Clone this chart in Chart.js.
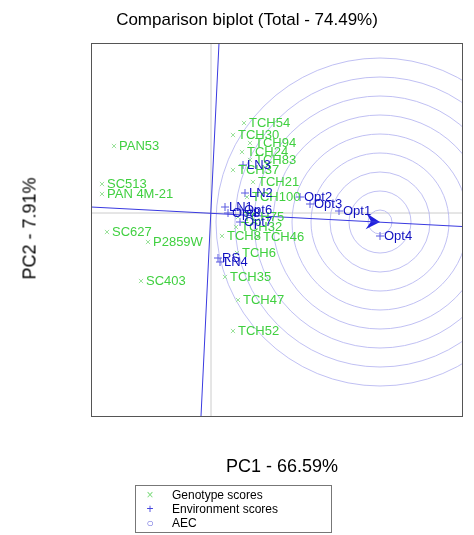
<!DOCTYPE html>
<html>
<head>
<meta charset="utf-8">
<script src="https://cdn.jsdelivr.net/npm/chart.js@4"></script>
<style>
  body { margin: 0; background: #fff; font-family: "Liberation Sans", Arial, sans-serif; }
  #wrap { position: relative; width: 474px; height: 535px; }
  canvas { position: absolute; left: 0; top: 0; }
  .txt { position: absolute; color: #000; white-space: nowrap; }
  #legend { position: absolute; left: 135px; top: 485px; width: 195px; height: 46px; border: 1px solid #777; font-size: 12px; }
  #legend div { position: relative; height: 14px; line-height: 14px; padding-left: 36px; }
  #legend span { position: absolute; left: 8px; width: 12px; text-align: center; }
</style>
</head>
<body>
<div id="wrap">
  <canvas id="biplot" width="474" height="535"></canvas>
  <div class="txt" style="left:0;width:474px;text-align:center;top:10px;font-size:17px;padding-left:20px;box-sizing:border-box;">Comparison biplot (Total - 74.49%)</div>
  <div class="txt" style="left:0;width:474px;top:456px;font-size:18px;padding-left:90px;box-sizing:border-box;text-align:center;">PC1 - 66.59%</div>
  <div class="txt" style="left:-40px;top:218px;font-size:18px;transform:rotate(-90deg);width:140px;text-align:center;">PC2 - 7.91%</div>
  <div id="legend">
    <div style="margin-top:2px;"><span style="color:#7fdc7f;">×</span>Genotype scores</div>
    <div><span style="color:#4444dd;">+</span>Environment scores</div>
    <div><span style="color:#6666dd;">○</span>AEC</div>
  </div>
</div>
<script>
// genotype scores (PC1, PC2)
const genoNames = ['PAN53', 'SC513', 'PAN 4M-21', 'SC627', 'P2859W', 'SC403',
  'TCH54', 'TCH30', 'TCH94', 'TCH24', 'TCH83', 'TCH37', 'TCH21', 'TCH100', 'TCH75',
  'TCH32', 'TCH8', 'TCH46', 'TCH6', 'TCH35', 'TCH47', 'TCH52'];
const genoX = [-9.7, -10.9, -10.9, -10.4, -6.3, -7.0,
  3.3, 2.2, 3.9, 3.1, 3.9, 2.2, 4.2, 3.6, 2.7,
  2.5, 1.1, 4.7, 2.6, 1.4, 2.7, 2.2];
const genoY = [6.7, 2.9, 1.9, -1.9, -2.9, -6.8,
  9.0, 7.8, 7.0, 6.1, 5.3, 4.3, 3.1, 1.6, -0.4,
  -1.4, -2.3, -2.4, -4.0, -6.4, -8.7, -11.8];

// environment scores (PC1, PC2)
const envNames = ['LN3', 'LN2', 'LN1', 'Opt6', 'Opt8', 'Opt7', 'Opt2', 'Opt3', 'Opt1', 'Opt4', 'RS', 'LN4'];
const envX = [3.2, 3.4, 1.4, 2.9, 1.7, 2.9, 8.9, 9.9, 12.8, 16.9, 0.7, 0.9];
const envY = [4.8, 2.0, 0.6, 0.3, 0.0, -0.9, 1.6, 0.9, 0.2, -2.3, -4.5, -4.9];

// average environment coordination axis
const aecCenter = [16.9, -0.9];
const aecRadii = [1.2, 3.1, 5.0, 6.9, 8.8, 10.7, 12.6, 14.5, 16.4];
const aecLineX = [-12, 25.1];
const aecLineY = [0.6, -1.35];
const perpLineX = [0.8, -1.0];
const perpLineY = [17, -20.3];

const xMin = -12, xMax = 25.1, yMin = -20.3, yMax = 17;

const overlay = {
  id: 'overlay',
  beforeDatasetsDraw(chart) {
    const { ctx, chartArea: a, scales: { x, y } } = chart;
    ctx.save();
    ctx.beginPath();
    ctx.rect(a.left, a.top, a.right - a.left, a.bottom - a.top);
    ctx.clip();
    // grey reference lines
    ctx.strokeStyle = '#cccccc';
    ctx.lineWidth = 1;
    ctx.beginPath();
    ctx.moveTo(x.getPixelForValue(0), a.top); ctx.lineTo(x.getPixelForValue(0), a.bottom);
    ctx.moveTo(a.left, y.getPixelForValue(0)); ctx.lineTo(a.right, y.getPixelForValue(0));
    ctx.stroke();
    // concentric circles
    const cx = x.getPixelForValue(aecCenter[0]), cy = y.getPixelForValue(aecCenter[1]);
    ctx.strokeStyle = '#b0b0f0';
    ctx.lineWidth = 0.8;
    aecRadii.forEach(r => {
      const rp = x.getPixelForValue(r) - x.getPixelForValue(0);
      ctx.beginPath(); ctx.arc(cx, cy, rp, 0, Math.PI * 2); ctx.stroke();
    });
    // arrow head
    const ang = Math.atan2(y.getPixelForValue(aecLineY[1]) - y.getPixelForValue(aecLineY[0]),
                           x.getPixelForValue(aecLineX[1]) - x.getPixelForValue(aecLineX[0]));
    ctx.fillStyle = '#2020dd';
    ctx.translate(cx, cy); ctx.rotate(ang);
    ctx.beginPath(); ctx.moveTo(0, 0); ctx.lineTo(-14, -8); ctx.lineTo(-9, 0); ctx.lineTo(-14, 8); ctx.closePath(); ctx.fill();
    ctx.restore();
  },
  afterDatasetsDraw(chart) {
    const { ctx, chartArea: a, scales: { x, y } } = chart;
    ctx.save();
    ctx.font = '13px "Liberation Sans", Arial, sans-serif';
    ctx.textBaseline = 'middle';
    ctx.fillStyle = '#40d040';
    genoNames.forEach((n, i) => ctx.fillText(n, x.getPixelForValue(genoX[i]) + 5, y.getPixelForValue(genoY[i])));
    ctx.fillStyle = '#1010c0';
    envNames.forEach((n, i) => ctx.fillText(n, x.getPixelForValue(envX[i]) + 4, y.getPixelForValue(envY[i])));
    // frame
    ctx.strokeStyle = '#555';
    ctx.lineWidth = 1;
    ctx.strokeRect(a.left + 0.5, a.top + 0.5, a.right - a.left, a.bottom - a.top);
    ctx.restore();
  }
};

new Chart(document.getElementById('biplot'), {
  type: 'scatter',
  data: {
    datasets: [
      { data: aecLineX.map((v, i) => ({ x: v, y: aecLineY[i] })), showLine: true, borderColor: '#3a3ae0', borderWidth: 1, pointRadius: 0 },
      { data: perpLineX.map((v, i) => ({ x: v, y: perpLineY[i] })), showLine: true, borderColor: '#3a3ae0', borderWidth: 1, pointRadius: 0 },
      { data: genoX.map((v, i) => ({ x: v, y: genoY[i] })), pointStyle: 'crossRot', pointRadius: 3, borderColor: '#9be29b', borderWidth: 1 },
      { data: envX.map((v, i) => ({ x: v, y: envY[i] })), pointStyle: 'cross', pointRadius: 4, borderColor: '#5a5ae0', borderWidth: 1 }
    ]
  },
  options: {
    responsive: false,
    animation: false,
    layout: { padding: { left: 91, top: 43, right: 12, bottom: 119 } },
    plugins: { legend: { display: false }, tooltip: { enabled: false } },
    scales: {
      x: { type: 'linear', min: xMin, max: xMax, display: false },
      y: { type: 'linear', min: yMin, max: yMax, display: false }
    }
  },
  plugins: [overlay]
});
</script>
</body>
</html>
